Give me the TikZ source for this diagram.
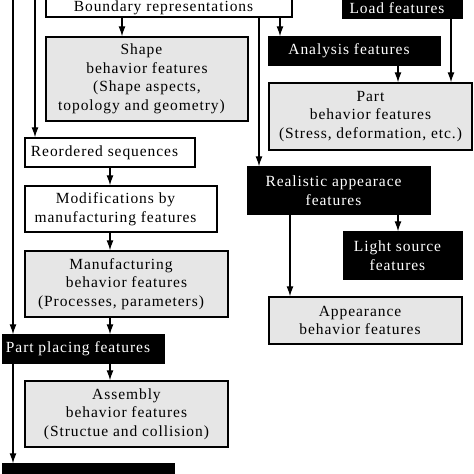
\documentclass[tikz,border=0pt]{standalone}
\usepackage{fontspec}
\setmainfont{Liberation Serif}[LetterSpace=6]
\usetikzlibrary{arrows.meta}
\definecolor{boxgray}{RGB}{230,230,230}
\newcommand\sh{\hspace*{11pt}}
\tikzset{
  every node/.style={font=\fontsize{15.5}{18.5}\selectfont, align=center, inner sep=0pt},
  wbox/.style={draw=black, line width=1.4pt, fill=white, text=black},
  gbox/.style={draw=black, line width=1.4pt, fill=boxgray, text=black},
  bbox/.style={draw=black, line width=1.4pt, fill=black, text=white},
  arr/.style={draw=black, line width=1.2pt, -{Latex[length=10pt,width=7pt]}},
  sz/.style 2 args={minimum width=#1pt, minimum height=#2pt}
}
\begin{document}
\begin{tikzpicture}[x=1pt,y=-1pt]
\useasboundingbox (0,0) rectangle (474,474);
\clip (0,0) rectangle (474,474);
% nodes
\node[wbox, sz={246}{18}] (brep) at (169,8) {Boundary representations\sh};
\node[bbox, sz={119}{20}] (load) at (402.5,8) {Load features\sh};
\node[bbox, sz={171}{28}] (analysis) at (354.5,51) {Analysis features\sh};
\node[gbox, sz={202}{84}] (shape) at (147,79) {Shape\sh\\behavior features\sh\\(Shape aspects,\sh\\topology and geometry)\sh};
\node[gbox, sz={203}{67}] (part) at (370.5,116.5) {Part\\behavior features\\(Stress, deformation, etc.)};
\node[wbox, sz={170}{29}] (reorder) at (110,152.5) {Reordered sequences\sh};
\node[wbox, sz={192}{46}] (modif) at (121,209) {Modifications by\sh\\manufacturing features\sh};
\node[gbox, sz={203}{66}] (manuf) at (126.5,284) {Manufacturing\sh\\behavior features\sh\\(Processes, parameters)\sh};
\node[bbox, sz={182}{47}] (real) at (339,190.5) {Realistic appearace\sh\\features\sh};
\node[bbox, sz={118}{47}] (light) at (403,255.5) {Light source\sh\\features\sh};
\node[gbox, sz={193}{47}] (appear) at (365.5,320.5) {Appearance\sh\\behavior features\sh};
\node[bbox, sz={161}{28}] (placing) at (83.5,349) {Part placing features\sh};
\node[gbox, sz={203}{66}] (assembly) at (126.5,414) {Assembly\\behavior features\\(Structue and collision)};
\node[bbox, sz={171}{26}] (bottom) at (88.5,477) {};
% x positions
\coordinate (top1) at (13,-2);
\coordinate (top2) at (35,-2);
\coordinate (xA) at (122,0);
\coordinate (xB) at (259,0);
\coordinate (xC) at (280,0);
\coordinate (xD) at (398,0);
\coordinate (xE) at (451,0);
\coordinate (xF) at (110,0);
\coordinate (xG) at (290,0);
\coordinate (xH) at (13,0);
% connectors
\draw[arr] (top1) -- (placing.north -| top1);
\draw[arr] (top2) -- (reorder.north -| top2);
\draw[arr] (brep.south -| xA) -- (shape.north -| xA);
\draw[arr] (brep.south -| xB) -- (real.north -| xB);
\draw[arr] (brep.south -| xC) -- (analysis.north -| xC);
\draw[arr] (analysis.south -| xD) -- (part.north -| xD);
\draw[arr] (load.south -| xE) -- (part.north -| xE);
\draw[arr] (reorder.south -| xF) -- (modif.north -| xF);
\draw[arr] (modif.south -| xF) -- (manuf.north -| xF);
\draw[arr] (manuf.south -| xF) -- (placing.north -| xF);
\draw[arr] (placing.south -| xF) -- (assembly.north -| xF);
\draw[arr] (placing.south -| xH) -- (bottom.north -| xH);
\draw[arr] (real.south -| xD) -- (light.north -| xD);
\draw[arr] (real.south -| xG) -- (appear.north -| xG);
\end{tikzpicture}
\end{document}
